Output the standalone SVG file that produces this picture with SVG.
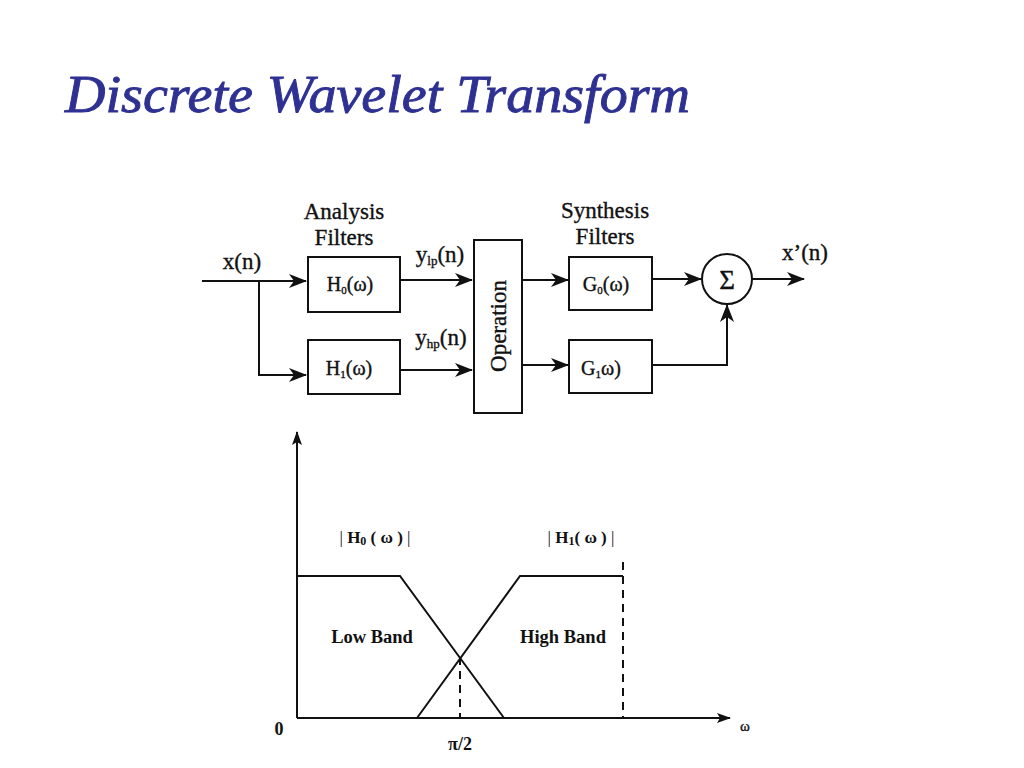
<svg xmlns="http://www.w3.org/2000/svg" width="1024" height="768" viewBox="0 0 1024 768">
<style>
.t{font-family:"Liberation Serif","Times New Roman",serif;fill:#111;stroke:#111;stroke-width:0.35}
.box{fill:#fff;stroke:#111;stroke-width:2}
.ln{fill:none;stroke:#111;stroke-width:2}
.b{font-family:"Liberation Serif","Times New Roman",serif;font-weight:bold;fill:#111}
</style>
<defs>
<marker id="ah" viewBox="0 0 18 14" refX="17" refY="7" markerWidth="18" markerHeight="14" markerUnits="userSpaceOnUse" orient="auto">
<path d="M0,0 L18,7 L0,14 L5,7 Z" fill="#111"/>
</marker>
<marker id="as" viewBox="0 0 14 10" refX="13" refY="5" markerWidth="14" markerHeight="10" markerUnits="userSpaceOnUse" orient="auto">
<path d="M0,0 L14,5 L0,10 L3,5 Z" fill="#111"/>
</marker>
</defs>
<rect width="1024" height="768" fill="#fff"/>
<text x="65" y="112" font-family="'Liberation Serif',serif" font-style="italic" font-size="52" fill="#2E3192" stroke="#2E3192" stroke-width="0.9" textLength="625" lengthAdjust="spacingAndGlyphs">Discrete Wavelet Transform</text>

<g id="connectors">
<path class="ln" d="M202,281 H306" marker-end="url(#ah)"/>
<path class="ln" d="M259,281 V375 H306" marker-end="url(#ah)"/>
<path class="ln" d="M400,280 H472" marker-end="url(#ah)"/>
<path class="ln" d="M400,370 H472" stroke-width="2.5" marker-end="url(#ah)"/>
<path class="ln" d="M522,280 H568" marker-end="url(#ah)"/>
<path class="ln" d="M522,365 H568" marker-end="url(#ah)"/>
<path class="ln" d="M652,279 H701" marker-end="url(#ah)"/>
<path class="ln" d="M652,365 H727 V305" marker-end="url(#ah)"/>
<path class="ln" d="M752,279 H804" marker-end="url(#ah)"/>
</g>

<g id="labels-top">
<text class="t" x="344" y="219" font-size="23" text-anchor="middle">Analysis</text>
<text class="t" x="344" y="245" font-size="23" text-anchor="middle">Filters</text>
<text class="t" x="605" y="218" font-size="23" text-anchor="middle">Synthesis</text>
<text class="t" x="605" y="244" font-size="23" text-anchor="middle">Filters</text>
<text class="t" x="242" y="269" font-size="23" text-anchor="middle">x(n)</text>
<text class="t" x="805" y="260" font-size="23" text-anchor="middle">x’(n)</text>
<text class="t" x="440" y="262" font-size="23" text-anchor="middle">y<tspan font-size="13" dy="3">lp</tspan><tspan dy="-3">(n)</tspan></text>
<text class="t" x="441" y="345" font-size="23" text-anchor="middle">y<tspan font-size="13" dy="3">hp</tspan><tspan dy="-3">(n)</tspan></text>
</g>

<g id="H0"><rect class="box" x="308" y="257" width="92" height="55"/><text class="t" x="350" y="291" font-size="20" text-anchor="middle">H<tspan font-size="11" dy="3">0</tspan><tspan dy="-3">(ω)</tspan></text></g>
<g id="H1"><rect class="box" x="308" y="340" width="92" height="54"/><text class="t" x="349" y="375" font-size="20" text-anchor="middle">H<tspan font-size="11" dy="3">1</tspan><tspan dy="-3">(ω)</tspan></text></g>
<g id="Operation"><rect class="box" x="474" y="240" width="48" height="173"/><text class="t" transform="translate(506,326) rotate(-90)" font-size="23" text-anchor="middle">Operation</text></g>
<g id="G0"><rect class="box" x="569" y="257" width="83" height="53"/><text class="t" x="606" y="291" font-size="20" text-anchor="middle">G<tspan font-size="11" dy="3">0</tspan><tspan dy="-3">(ω)</tspan></text></g>
<g id="G1"><rect class="box" x="569" y="340" width="83" height="53"/><text class="t" x="601" y="375" font-size="20" text-anchor="middle">G<tspan font-size="11" dy="3">1</tspan><tspan dy="-3">ω)</tspan></text></g>
<g id="Sum"><circle class="box" cx="727" cy="279" r="25"/><text class="t" x="727" y="289" font-size="27" text-anchor="middle">Σ</text></g>

<g id="plot">
<path class="ln" d="M297,718 V432" marker-end="url(#as)"/>
<path class="ln" d="M297,718 H730" marker-end="url(#as)"/>
<path class="ln" d="M297,576 H400 L504,718"/>
<path class="ln" d="M417,718 L520,576 H623"/>
<path class="ln" d="M460,657 V718" stroke-dasharray="8,6"/>
<path class="ln" d="M623,562 V718" stroke-dasharray="8,6"/>
<text class="b" x="375" y="543" font-size="17" text-anchor="middle"><tspan font-weight="normal">|</tspan> H<tspan font-size="12" dy="2">0</tspan><tspan dy="-2"> ( ω ) </tspan><tspan font-weight="normal">|</tspan></text>
<text class="b" x="581" y="543" font-size="17" text-anchor="middle"><tspan font-weight="normal">|</tspan> H<tspan font-size="12" dy="2">1</tspan><tspan dy="-2">(  ω ) </tspan><tspan font-weight="normal">|</tspan></text>
<text class="b" x="372" y="643" font-size="18.5" text-anchor="middle">Low Band</text>
<text class="b" x="563" y="643" font-size="18.5" text-anchor="middle">High Band</text>
<text class="b" x="279" y="735" font-size="18" text-anchor="middle">0</text>
<text class="b" x="460" y="750" font-size="18" text-anchor="middle">π/2</text>
<text class="t" x="745" y="731" font-size="15" text-anchor="middle" stroke-width="0">ω</text>
</g>
</svg>
